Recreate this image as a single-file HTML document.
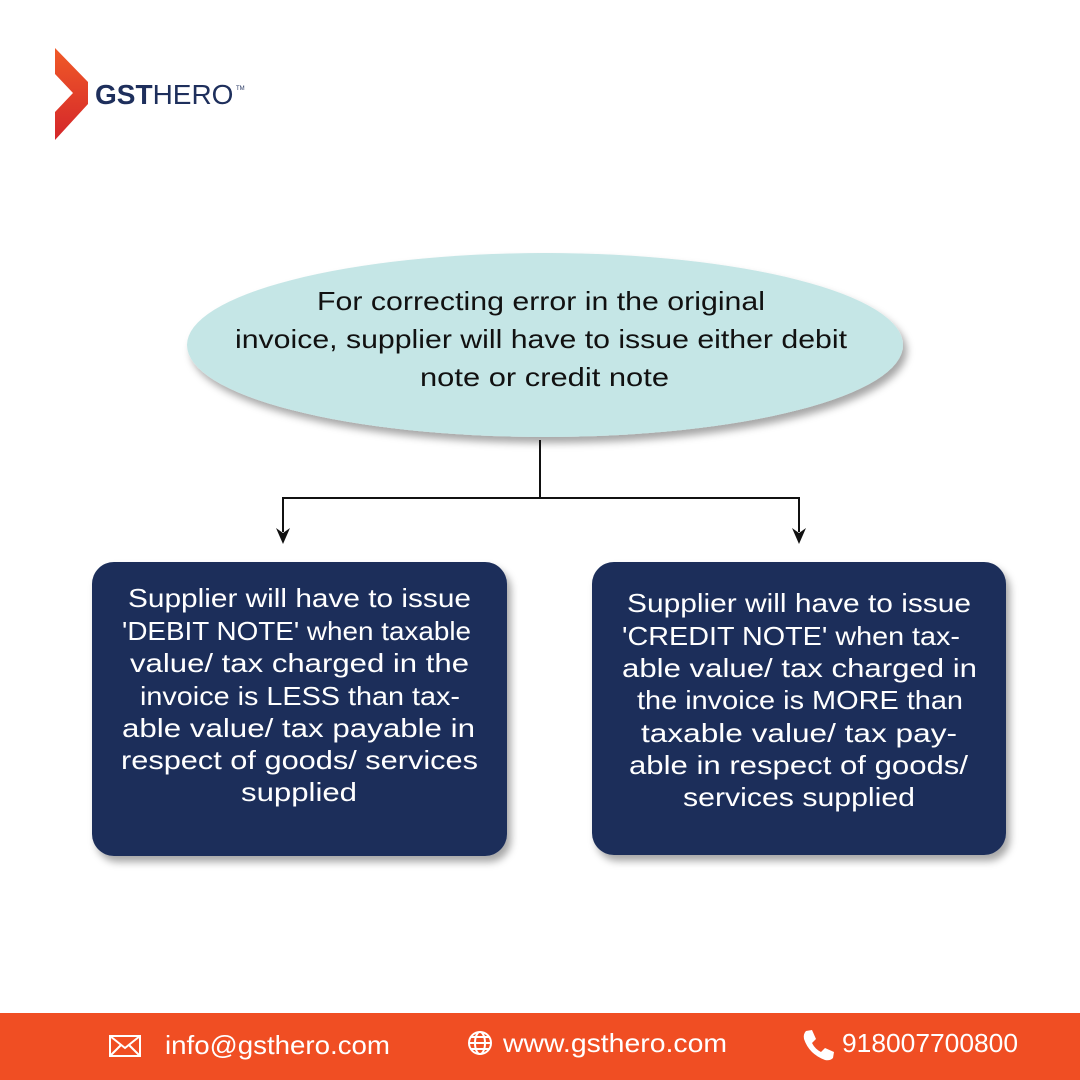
<!DOCTYPE html>
<html><head><meta charset="utf-8"><style>
html,body{margin:0;padding:0;background:#fff}
svg{display:block}
text{font-family:"Liberation Sans",sans-serif}
</style></head><body>
<svg width="1080" height="1080" viewBox="0 0 1080 1080" xmlns="http://www.w3.org/2000/svg">
<defs>
<filter id="sh" x="-10%" y="-10%" width="125%" height="130%"><feDropShadow dx="4" dy="6" stdDeviation="4" flood-color="#000" flood-opacity="0.35"/></filter>
<linearGradient id="lg" x1="0" y1="0" x2="0" y2="1"><stop offset="0" stop-color="#f05a28"/><stop offset="1" stop-color="#d4262a"/></linearGradient>
</defs>
<rect width="1080" height="1080" fill="#fff"/>
<!-- logo -->
<polygon points="55,48 88,82 88,104 55,140 55,112 73,93 55,74" fill="url(#lg)"/>
<text x="95" y="104" font-size="28" font-weight="bold" fill="#1e2f5c">GST<tspan font-weight="normal">HERO</tspan></text>
<text x="236" y="90" font-size="6" fill="#1e2f5c">TM</text>
<!-- ellipse -->
<ellipse cx="545" cy="345" rx="358" ry="92" fill="#c5e6e6" filter="url(#sh)"/>
<g font-size="26" fill="#111">
<text x="317" y="310" textLength="448" lengthAdjust="spacingAndGlyphs">For correcting error in the original</text>
<text x="235" y="348" textLength="612" lengthAdjust="spacingAndGlyphs">invoice, supplier will have to issue either debit</text>
<text x="420" y="386" textLength="249" lengthAdjust="spacingAndGlyphs">note or credit note</text>
</g>
<!-- connectors -->
<g stroke="#111" stroke-width="2" fill="none">
<line x1="540" y1="440" x2="540" y2="498"/>
<polyline points="283,532 283,498 799,498 799,532"/>
</g>
<polygon points="276,528 283,544 290,528 283,533" fill="#111"/>
<polygon points="792,528 799,544 806,528 799,533" fill="#111"/>
<!-- boxes -->
<rect x="92" y="562" width="415" height="294" rx="22" fill="#1a2d5a" filter="url(#sh)"/>
<rect x="592" y="562" width="414" height="293" rx="22" fill="#1a2d5a" filter="url(#sh)"/>
<g font-size="26" fill="#fff">
<text x="128" y="607" textLength="343" lengthAdjust="spacingAndGlyphs">Supplier will have to issue</text>
<text x="122" y="640" textLength="349" lengthAdjust="spacingAndGlyphs">'DEBIT NOTE' when taxable</text>
<text x="130" y="672" textLength="339" lengthAdjust="spacingAndGlyphs">value/ tax charged in the</text>
<text x="140" y="705" textLength="320" lengthAdjust="spacingAndGlyphs">invoice is LESS than tax-</text>
<text x="122" y="737" textLength="353" lengthAdjust="spacingAndGlyphs">able value/ tax payable in</text>
<text x="121" y="769" textLength="357" lengthAdjust="spacingAndGlyphs">respect of goods/ services</text>
<text x="241" y="801" textLength="116" lengthAdjust="spacingAndGlyphs">supplied</text>
<text x="627" y="612" textLength="344" lengthAdjust="spacingAndGlyphs">Supplier will have to issue</text>
<text x="622" y="645" textLength="338" lengthAdjust="spacingAndGlyphs">'CREDIT NOTE' when tax-</text>
<text x="622" y="677" textLength="355" lengthAdjust="spacingAndGlyphs">able value/ tax charged in</text>
<text x="637" y="709" textLength="326" lengthAdjust="spacingAndGlyphs">the invoice is MORE than</text>
<text x="641" y="742" textLength="316" lengthAdjust="spacingAndGlyphs">taxable value/ tax pay-</text>
<text x="629" y="774" textLength="339" lengthAdjust="spacingAndGlyphs">able in respect of goods/</text>
<text x="683" y="806" textLength="232" lengthAdjust="spacingAndGlyphs">services supplied</text>
</g>
<!-- footer -->
<rect x="0" y="1013" width="1080" height="67" fill="#f04e23"/>
<g fill="none" stroke="#fff" stroke-width="2">
<rect x="110" y="1036" width="30" height="20"/>
<polyline points="110,1036 125,1048 140,1036"/>
<line x1="110" y1="1056" x2="121" y2="1045"/><line x1="140" y1="1056" x2="129" y2="1045"/>
<circle cx="480" cy="1043" r="11"/>
<ellipse cx="480" cy="1043" rx="5" ry="11"/>
<line x1="469" y1="1043" x2="491" y2="1043"/>
<line x1="471" y1="1037" x2="489" y2="1037"/><line x1="471" y1="1049" x2="489" y2="1049"/>
</g>
<path d="M806,1031 l6,-1 l4,9 l-4,4 q3,6 9,9 l4,-4 l9,4 l-1,6 q-3,3 -8,2 q-16,-6 -21,-21 q-1,-5 2,-8z" fill="#fff"/>
<g font-size="26" fill="#fff">
<text x="165" y="1054" textLength="225" lengthAdjust="spacingAndGlyphs">info@gsthero.com</text>
<text x="503" y="1052" textLength="224" lengthAdjust="spacingAndGlyphs">www.gsthero.com</text>
<text x="842" y="1052" textLength="176" lengthAdjust="spacingAndGlyphs">918007700800</text>
</g>
</svg>
</body></html>
